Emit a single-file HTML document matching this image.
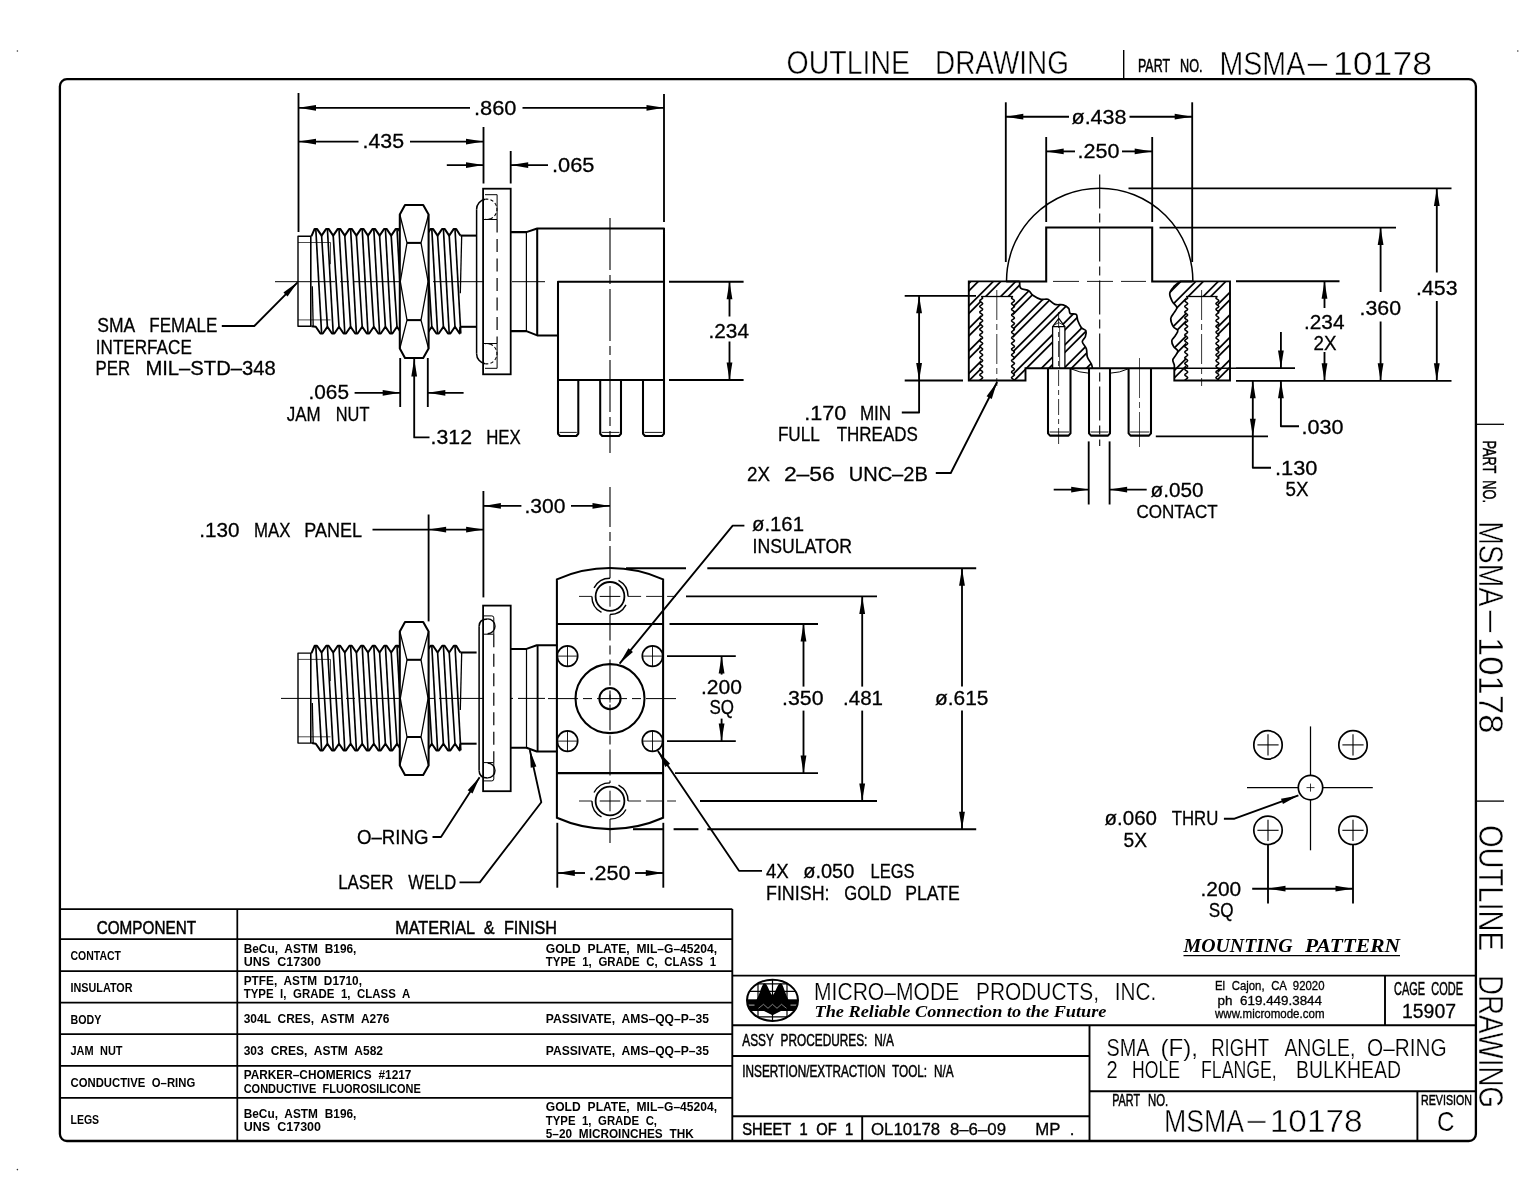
<!DOCTYPE html>
<html><head><meta charset="utf-8"><title>MSMA-10178 Outline Drawing</title>
<style>
html,body{margin:0;padding:0;background:#fff}
svg{display:block;will-change:transform}

text{stroke:none;fill:#000;font-family:"Liberation Sans",sans-serif;white-space:pre}
text.c,text.b,text.c2{word-spacing:.3em}
text.c{stroke:#000;stroke-width:.28px}
text.big{stroke:#fff;stroke-width:.5px;paint-order:fill stroke}
text.med{stroke:#fff;stroke-width:.2px;paint-order:fill stroke}
text.c2{stroke:#000;stroke-width:.3px}
text.b{font-weight:bold}
text.cn{stroke:#000;stroke-width:.5px}
text.si{font-family:"Liberation Serif",serif;font-style:italic;font-weight:bold}
</style></head><body>
<svg width="1536" height="1187" viewBox="0 0 1536 1187" fill="none" stroke="#000">
<rect x="0" y="0" width="1536" height="1187" fill="#fff" stroke="none"/>
<!-- frame -->
<rect x="59.9" y="79.2" width="1416" height="1061.8" rx="7" ry="7" stroke-width="2.3"/>
<circle cx="17.4" cy="51" r="0.8" fill="#333" stroke="none"/>
<circle cx="17.4" cy="1169.6" r="0.8" fill="#333" stroke="none"/>
<circle cx="1517.8" cy="51" r="0.8" fill="#333" stroke="none"/>
<!-- top title -->
<text class="c big" x="786.5" y="73.6" font-size="33.72" textLength="123.5" lengthAdjust="spacingAndGlyphs" >OUTLINE</text>
<text class="c big" x="935" y="73.6" font-size="33.72" textLength="134" lengthAdjust="spacingAndGlyphs" >DRAWING</text>
<line x1="1123.7" y1="50" x2="1123.7" y2="79" stroke-width="1.4"/>
<text class="c cn" x="1138" y="71.9" font-size="18.17" textLength="32" lengthAdjust="spacingAndGlyphs" >PART</text>
<text class="c cn" x="1180" y="71.9" font-size="18.17" textLength="22.5" lengthAdjust="spacingAndGlyphs" >NO.</text>
<text class="c big" x="1219.5" y="74.7" font-size="33.43" textLength="85.7" lengthAdjust="spacingAndGlyphs" >MSMA</text>
<text class="c big" x="1307.5" y="72.75" font-size="33.43" textLength="19.8" lengthAdjust="spacingAndGlyphs" >–</text>
<text class="c big" x="1333" y="74.7" font-size="33.43" textLength="99" lengthAdjust="spacingAndGlyphs" >10178</text>
<!-- right tab -->
<line x1="1476" y1="424.3" x2="1504" y2="424.3" stroke-width="1.3"/>
<line x1="1476" y1="801.1" x2="1504" y2="801.1" stroke-width="1.3"/>
<text class="c cn" transform="translate(1482.8 440.4) rotate(90)" x="0" y="0" font-size="18.9" textLength="62.6" lengthAdjust="spacingAndGlyphs">PART NO.</text>
<text class="c big" transform="translate(1478.9 521.2) rotate(90)" x="0" y="0" font-size="34.3" textLength="85.1" lengthAdjust="spacingAndGlyphs">MSMA</text>
<text class="c big" transform="translate(1480.91 610.6) rotate(90)" x="0" y="0" font-size="34.3" textLength="21.9" lengthAdjust="spacingAndGlyphs">–</text>
<text class="c big" transform="translate(1478.9 637) rotate(90)" x="0" y="0" font-size="34.3" textLength="96.5" lengthAdjust="spacingAndGlyphs">10178</text>
<text class="c big" transform="translate(1478.9 825) rotate(90)" x="0" y="0" font-size="34.3" textLength="126" lengthAdjust="spacingAndGlyphs">OUTLINE</text>
<text class="c big" transform="translate(1478.9 975) rotate(90)" x="0" y="0" font-size="34.3" textLength="133" lengthAdjust="spacingAndGlyphs">DRAWING</text>
<!-- title block -->
<line x1="732.3" y1="975.6" x2="1476" y2="975.6" stroke-width="1.9"/>
<line x1="732.3" y1="1025.3" x2="1476" y2="1025.3" stroke-width="1.9"/>
<line x1="732.3" y1="909" x2="732.3" y2="1141" stroke-width="1.9"/>
<line x1="732.3" y1="1056" x2="1089.5" y2="1056" stroke-width="1.9"/>
<line x1="732.3" y1="1116.2" x2="1089.5" y2="1116.2" stroke-width="1.9"/>
<line x1="1089.5" y1="1025.3" x2="1089.5" y2="1141" stroke-width="1.9"/>
<line x1="862.2" y1="1116.2" x2="862.2" y2="1141" stroke-width="1.9"/>
<line x1="1089.5" y1="1091.3" x2="1476" y2="1091.3" stroke-width="1.9"/>
<line x1="1385" y1="975.6" x2="1385" y2="1025.3" stroke-width="1.9"/>
<line x1="1417.4" y1="1091.3" x2="1417.4" y2="1141" stroke-width="1.9"/>
<text class="c med" x="814" y="999.6" font-size="23.55" textLength="145.2" lengthAdjust="spacingAndGlyphs" >MICRO–MODE</text>
<text class="c med" x="976" y="999.6" font-size="23.55" textLength="123" lengthAdjust="spacingAndGlyphs" >PRODUCTS,</text>
<text class="c med" x="1114.8" y="999.6" font-size="23.55" textLength="41.5" lengthAdjust="spacingAndGlyphs" >INC.</text>
<text class="si" x="814.5" y="1017" font-size="17.71" textLength="292" lengthAdjust="spacingAndGlyphs" >The Reliable Connection to the Future</text>
<text class="c2" x="1215" y="990.4" font-size="11.92" textLength="109.5" lengthAdjust="spacingAndGlyphs" >El Cajon, CA 92020</text>
<text class="c2" x="1217.5" y="1004.6" font-size="11.92" textLength="104.5" lengthAdjust="spacingAndGlyphs" >ph 619.449.3844</text>
<text class="c2" x="1215" y="1018.3" font-size="11.92" textLength="109.5" lengthAdjust="spacingAndGlyphs" >www.micromode.com</text>
<text class="c cn" x="1394" y="995.2" font-size="17.44" textLength="69" lengthAdjust="spacingAndGlyphs" >CAGE CODE</text>
<text class="c" x="1402" y="1017.8" font-size="19.33" textLength="54" lengthAdjust="spacingAndGlyphs" >15907</text>
<text class="c cn" x="742.3" y="1045.8" font-size="15.99" textLength="151.7" lengthAdjust="spacingAndGlyphs" >ASSY PROCEDURES: N/A</text>
<text class="c cn" x="742.3" y="1076.8" font-size="16.28" textLength="211.3" lengthAdjust="spacingAndGlyphs" >INSERTION/EXTRACTION TOOL: N/A</text>
<text class="c cn" x="742.3" y="1134.7" font-size="15.99" textLength="111" lengthAdjust="spacingAndGlyphs" >SHEET 1 OF 1</text>
<text class="c" x="871" y="1134.7" font-size="15.99" textLength="203.5" lengthAdjust="spacingAndGlyphs" >OL10178 8–6–09   MP .</text>
<text class="c med" x="1106.6" y="1055.6" font-size="24.13" textLength="43" lengthAdjust="spacingAndGlyphs" >SMA</text>
<text class="c med" x="1160.4" y="1055.6" font-size="24.13" textLength="37.6" lengthAdjust="spacingAndGlyphs" >(F),</text>
<text class="c med" x="1211.2" y="1055.6" font-size="24.13" textLength="57.8" lengthAdjust="spacingAndGlyphs" >RIGHT</text>
<text class="c med" x="1284.4" y="1055.6" font-size="24.13" textLength="71" lengthAdjust="spacingAndGlyphs" >ANGLE,</text>
<text class="c med" x="1367" y="1055.6" font-size="24.13" textLength="79.6" lengthAdjust="spacingAndGlyphs" >O–RING</text>
<text class="c med" x="1106.6" y="1078.4" font-size="24.13" textLength="11.2" lengthAdjust="spacingAndGlyphs" >2</text>
<text class="c med" x="1132" y="1078.4" font-size="24.13" textLength="48" lengthAdjust="spacingAndGlyphs" >HOLE</text>
<text class="c med" x="1201" y="1078.4" font-size="24.13" textLength="75.8" lengthAdjust="spacingAndGlyphs" >FLANGE,</text>
<text class="c med" x="1296" y="1078.4" font-size="24.13" textLength="105" lengthAdjust="spacingAndGlyphs" >BULKHEAD</text>
<text class="c cn" x="1112.2" y="1106" font-size="15.7" textLength="27.8" lengthAdjust="spacingAndGlyphs" >PART</text>
<text class="c cn" x="1148" y="1106" font-size="15.7" textLength="20.2" lengthAdjust="spacingAndGlyphs" >NO.</text>
<text class="c big" x="1164" y="1131.8" font-size="31.69" textLength="80.2" lengthAdjust="spacingAndGlyphs" >MSMA</text>
<text class="c big" x="1247.2" y="1129.95" font-size="31.69" textLength="18.6" lengthAdjust="spacingAndGlyphs" >–</text>
<text class="c big" x="1269.8" y="1131.8" font-size="31.69" textLength="92.8" lengthAdjust="spacingAndGlyphs" >10178</text>
<text class="c cn" x="1421" y="1105.3" font-size="15.12" textLength="51" lengthAdjust="spacingAndGlyphs" >REVISION</text>
<text class="c med" x="1437" y="1130.8" font-size="27.03" textLength="17.5" lengthAdjust="spacingAndGlyphs" >C</text>
<!-- logo -->
<clipPath id="lg"><ellipse cx="772.5" cy="1000.3" rx="25.5" ry="20.6"/></clipPath>
<g clip-path="url(#lg)">
<line x1="758" y1="979.7" x2="758" y2="1020.9" stroke-width="1.2"/>
<line x1="772.5" y1="979.7" x2="772.5" y2="1020.9" stroke-width="1.2"/>
<line x1="787" y1="979.7" x2="787" y2="1020.9" stroke-width="1.2"/>
<line x1="747" y1="983.8" x2="798" y2="983.8" stroke-width="1.2"/>
<line x1="747" y1="991.3" x2="798" y2="991.3" stroke-width="1.2"/>
<line x1="747" y1="1016.8" x2="798" y2="1016.8" stroke-width="1.2"/>
<line x1="747" y1="1010.3" x2="798" y2="1010.3" stroke-width="1.2"/>
<path d="M755.5 1001.3 C759.5 996.3 761.5 983.3 764.5 983.3 C767.5 983.3 769.5 993.3 772.5 995.3 C775.5 993.3 777.5 983.3 780.5 983.3 C783.5 983.3 785.5 996.3 789.5 1001.3 L798.5 1001.3 L746.5 1001.3 Z" fill="#000" stroke="none"/>
<rect x="747" y="999.3" width="51" height="11.5" fill="#000" stroke="none"/>
<polygon points="762.5,1010.3 782.5,1010.3 772.5,1015.3" fill="#000" stroke="none"/>
<polyline points="758.5,1008.3 763.5,1004.3 768,1008.3 772.5,1004.3 777,1008.3 781.5,1004.3 786.5,1008.3" stroke="#fff" style="stroke:#fff" stroke-width="0.5"/>
<line x1="747" y1="1005.1" x2="754.5" y2="1005.1" style="stroke:#fff" stroke-width="0.7"/>
<line x1="790.5" y1="1005.1" x2="798" y2="1005.1" style="stroke:#fff" stroke-width="0.7"/>
</g>
<ellipse cx="772.5" cy="1000.3" rx="25.5" ry="20.6" stroke-width="2"/>
<!-- materials table -->
<line x1="60" y1="909" x2="732.3" y2="909" stroke-width="1.75"/>
<line x1="60" y1="939.2" x2="732.3" y2="939.2" stroke-width="1.75"/>
<line x1="60" y1="971.1" x2="732.3" y2="971.1" stroke-width="1.75"/>
<line x1="60" y1="1002.5" x2="732.3" y2="1002.5" stroke-width="1.75"/>
<line x1="60" y1="1034" x2="732.3" y2="1034" stroke-width="1.75"/>
<line x1="60" y1="1065.9" x2="732.3" y2="1065.9" stroke-width="1.75"/>
<line x1="60" y1="1097.8" x2="732.3" y2="1097.8" stroke-width="1.75"/>
<line x1="237.3" y1="909" x2="237.3" y2="1141" stroke-width="1.75"/>
<text class="c cn" x="96.7" y="933.8" font-size="18.6" textLength="99.3" lengthAdjust="spacingAndGlyphs" >COMPONENT</text>
<text class="c cn" x="395.3" y="933.6" font-size="18.9" textLength="161.7" lengthAdjust="spacingAndGlyphs" >MATERIAL &amp; FINISH</text>
<text class="b" x="70.5" y="959.9" font-size="12.94" textLength="50.5" lengthAdjust="spacingAndGlyphs" >CONTACT</text>
<text class="b" x="70.5" y="991.6" font-size="12.94" textLength="62" lengthAdjust="spacingAndGlyphs" >INSULATOR</text>
<text class="b" x="70.5" y="1023.5" font-size="12.94" textLength="30.8" lengthAdjust="spacingAndGlyphs" >BODY</text>
<text class="b" x="70.5" y="1055.4" font-size="12.94" textLength="52" lengthAdjust="spacingAndGlyphs" >JAM NUT</text>
<text class="b" x="70.5" y="1086.8" font-size="12.94" textLength="124.7" lengthAdjust="spacingAndGlyphs" >CONDUCTIVE O–RING</text>
<text class="b" x="70.5" y="1124" font-size="12.94" textLength="28.6" lengthAdjust="spacingAndGlyphs" >LEGS</text>
<text class="b" x="243.7" y="952.9" font-size="12.65" textLength="112.7" lengthAdjust="spacingAndGlyphs" >BeCu, ASTM B196,</text>
<text class="b" x="243.7" y="966" font-size="12.65" textLength="77.3" lengthAdjust="spacingAndGlyphs" >UNS C17300</text>
<text class="b" x="243.7" y="984.6" font-size="12.65" textLength="118.3" lengthAdjust="spacingAndGlyphs" >PTFE, ASTM D1710,</text>
<text class="b" x="243.7" y="997.8" font-size="12.65" textLength="166.5" lengthAdjust="spacingAndGlyphs" >TYPE I, GRADE 1, CLASS A</text>
<text class="b" x="243.7" y="1023.3" font-size="12.65" textLength="145.8" lengthAdjust="spacingAndGlyphs" >304L CRES, ASTM A276</text>
<text class="b" x="243.7" y="1054.8" font-size="12.65" textLength="139.3" lengthAdjust="spacingAndGlyphs" >303 CRES, ASTM A582</text>
<text class="b" x="243.7" y="1079.4" font-size="12.65" textLength="167.7" lengthAdjust="spacingAndGlyphs" >PARKER–CHOMERICS #1217</text>
<text class="b" x="243.7" y="1093" font-size="12.65" textLength="177.1" lengthAdjust="spacingAndGlyphs" >CONDUCTIVE FLUOROSILICONE</text>
<text class="b" x="243.7" y="1117.9" font-size="12.65" textLength="112.7" lengthAdjust="spacingAndGlyphs" >BeCu, ASTM B196,</text>
<text class="b" x="243.7" y="1130.7" font-size="12.65" textLength="77.3" lengthAdjust="spacingAndGlyphs" >UNS C17300</text>
<text class="b" x="545.8" y="952.6" font-size="12.65" textLength="171.2" lengthAdjust="spacingAndGlyphs" >GOLD PLATE, MIL–G–45204,</text>
<text class="b" x="545.8" y="966.3" font-size="12.65" textLength="170.2" lengthAdjust="spacingAndGlyphs" >TYPE 1, GRADE C, CLASS 1</text>
<text class="b" x="545.8" y="1023.2" font-size="12.65" textLength="163.2" lengthAdjust="spacingAndGlyphs" >PASSIVATE, AMS–QQ–P–35</text>
<text class="b" x="545.8" y="1054.6" font-size="12.65" textLength="163.2" lengthAdjust="spacingAndGlyphs" >PASSIVATE, AMS–QQ–P–35</text>
<text class="b" x="545.8" y="1111" font-size="12.65" textLength="171.2" lengthAdjust="spacingAndGlyphs" >GOLD PLATE, MIL–G–45204,</text>
<text class="b" x="545.8" y="1124.6" font-size="12.65" textLength="111.2" lengthAdjust="spacingAndGlyphs" >TYPE 1, GRADE C,</text>
<text class="b" x="545.8" y="1138.2" font-size="12.65" textLength="147.9" lengthAdjust="spacingAndGlyphs" >5–20 MICROINCHES THK</text>
<!-- SIDE VIEW -->
<line x1="275" y1="281.7" x2="545" y2="281.7" stroke-width="1" stroke-dasharray="60 5 9 5"/>
<!-- connector cy=281.2 -->
<polyline points="311.5,236.2 298,236.2 298,326.2 311.5,326.2" fill="none" stroke-width="1.4" stroke-linejoin="round"/>
<polyline points="298,242.5 330.5,242.5 330.5,264.2" fill="none" stroke-width="0.7" stroke-linejoin="round"/>
<polyline points="298,319.9 330.5,319.9" fill="none" stroke-width="0.7" stroke-linejoin="round"/>
<line x1="310.8" y1="236.2" x2="310.8" y2="326.2" stroke-width="1.6"/>
<polyline points="311.5,236.2 314.6,228.9 317,228.9 321.6,235.6 326.2,228.9 328.6,228.9 333.2,235.6 337.8,228.9 340.2,228.9 344.8,235.6 349.4,228.9 351.8,228.9 356.4,235.6 361,228.9 363.4,228.9 368,235.6 372.6,228.9 375,228.9 379.6,235.6 384.2,228.9 386.6,228.9 391.2,235.6 395.8,228.9 398.2,228.9 402.8,235.6 407.4,228.9 409.8,228.9 414.4,235.6 419,228.9 421.4,228.9 426,235.6 430.6,228.9 433,228.9 437.6,235.6 442.2,228.9 444.6,228.9 449.2,235.6 453.8,228.9 456.2,228.9 460.3,235.6" fill="none" stroke-width="2" stroke-linejoin="round"/>
<polyline points="311.5,326.2 315.8,326.8 320.4,333.5 322.8,333.5 327.4,326.8 332,333.5 334.4,333.5 339,326.8 343.6,333.5 346,333.5 350.6,326.8 355.2,333.5 357.6,333.5 362.2,326.8 366.8,333.5 369.2,333.5 373.8,326.8 378.4,333.5 380.8,333.5 385.4,326.8 390,333.5 392.4,333.5 397,326.8 401.6,333.5 404,333.5 408.6,326.8 413.2,333.5 415.6,333.5 420.2,326.8 424.8,333.5 427.2,333.5 431.8,326.8 436.4,333.5 438.8,333.5 443.4,326.8 448,333.5 450.4,333.5 455,326.8 459.6,333.5 460.3,326.8" fill="none" stroke-width="2" stroke-linejoin="round"/>
<line x1="315.8" y1="228.9" x2="321.6" y2="333.5" stroke-width="1.65"/>
<line x1="321.6" y1="235.6" x2="327.4" y2="326.8" stroke-width="1.65"/>
<line x1="327.4" y1="228.9" x2="333.2" y2="333.5" stroke-width="1.65"/>
<line x1="333.2" y1="235.6" x2="339" y2="326.8" stroke-width="1.65"/>
<line x1="339" y1="228.9" x2="344.8" y2="333.5" stroke-width="1.65"/>
<line x1="344.8" y1="235.6" x2="350.6" y2="326.8" stroke-width="1.65"/>
<line x1="350.6" y1="228.9" x2="356.4" y2="333.5" stroke-width="1.65"/>
<line x1="356.4" y1="235.6" x2="362.2" y2="326.8" stroke-width="1.65"/>
<line x1="362.2" y1="228.9" x2="368" y2="333.5" stroke-width="1.65"/>
<line x1="368" y1="235.6" x2="373.8" y2="326.8" stroke-width="1.65"/>
<line x1="373.8" y1="228.9" x2="379.6" y2="333.5" stroke-width="1.65"/>
<line x1="379.6" y1="235.6" x2="385.4" y2="326.8" stroke-width="1.65"/>
<line x1="385.4" y1="228.9" x2="391.2" y2="333.5" stroke-width="1.65"/>
<line x1="391.2" y1="235.6" x2="397" y2="326.8" stroke-width="1.65"/>
<line x1="397" y1="228.9" x2="402.8" y2="333.5" stroke-width="1.65"/>
<line x1="402.8" y1="235.6" x2="408.6" y2="326.8" stroke-width="1.65"/>
<line x1="408.6" y1="228.9" x2="414.4" y2="333.5" stroke-width="1.65"/>
<line x1="414.4" y1="235.6" x2="420.2" y2="326.8" stroke-width="1.65"/>
<line x1="420.2" y1="228.9" x2="426" y2="333.5" stroke-width="1.65"/>
<line x1="426" y1="235.6" x2="431.8" y2="326.8" stroke-width="1.65"/>
<line x1="431.8" y1="228.9" x2="437.6" y2="333.5" stroke-width="1.65"/>
<line x1="437.6" y1="235.6" x2="443.4" y2="326.8" stroke-width="1.65"/>
<line x1="443.4" y1="228.9" x2="449.2" y2="333.5" stroke-width="1.65"/>
<line x1="449.2" y1="235.6" x2="455" y2="326.8" stroke-width="1.65"/>
<line x1="455" y1="228.9" x2="460.8" y2="333.5" stroke-width="1.65"/>
<line x1="461.7" y1="235.6" x2="460.3" y2="293.2" stroke-width="1.3"/>
<line x1="312.3" y1="286.2" x2="313.2" y2="326.8" stroke-width="1.3"/>
<line x1="460.3" y1="235.6" x2="476.6" y2="235.6" stroke-width="2.05"/>
<line x1="460.3" y1="326.8" x2="476.6" y2="326.8" stroke-width="2.05"/>
<polygon points="405,205 423.2,205 428.6,214.5 428.6,348.5 423.2,358 405,358 399.8,348.5 399.8,214.5" fill="#fff" stroke-width="2.05" stroke-linejoin="round"/>
<line x1="407" y1="242.9" x2="421" y2="242.9" stroke-width="2.05"/>
<line x1="407" y1="320.1" x2="421" y2="320.1" stroke-width="2.05"/>
<polyline points="399.8,214.5 407,242.9 400.3,281.5 407,320.1 399.8,348.5" fill="none" stroke-width="1.3" stroke-linejoin="round"/>
<polyline points="428.6,214.5 421,242.9 428.1,281.5 421,320.1 428.6,348.5" fill="none" stroke-width="1.3" stroke-linejoin="round"/>
<rect x="483.1" y="188.7" width="27.6" height="185.6" fill="#fff" stroke-width="1.8"/>
<path d="M476.6 209.3 A10.2 10.2 0 0 1 485.16 199.23" fill="none" stroke-width="1.5"/>
<path d="M485.16 199.23 A10.2 10.2 0 0 1 490.29 218.88" fill="none" stroke-width="1.1" stroke-dasharray="3.2 2.2"/>
<path d="M490.29 218.88 A10.2 10.2 0 0 1 485.03 219.35" fill="none" stroke-width="1.1"/>
<polyline points="485,194.7 497.1,194.7 497.1,219.5 483.1,219.5" fill="none" stroke-width="1" stroke-linejoin="round"/>
<path d="M476.6 353.7 A10.2 10.2 0 0 0 485.16 363.77" fill="none" stroke-width="1.5"/>
<path d="M485.16 363.77 A10.2 10.2 0 0 0 490.29 344.12" fill="none" stroke-width="1.1" stroke-dasharray="3.2 2.2"/>
<path d="M490.29 344.12 A10.2 10.2 0 0 0 485.03 343.65" fill="none" stroke-width="1.1"/>
<polyline points="485,368.3 497.1,368.3 497.1,343.5 483.1,343.5" fill="none" stroke-width="1" stroke-linejoin="round"/>
<line x1="476.6" y1="209.3" x2="476.6" y2="353.7" stroke-width="1.5"/>
<line x1="497.1" y1="219.5" x2="497.1" y2="343.5" stroke-width="1.2" stroke-dasharray="13 6.5"/>
<polyline points="510.7,232.1 526.4,232.1 537.2,228.5 664,228.5 664,380" fill="none" stroke-width="2.05" stroke-linejoin="round"/>
<polyline points="510.7,331.1 526.4,331.1 537.2,335.4 558,335.4" fill="none" stroke-width="2.05" stroke-linejoin="round"/>
<line x1="526.4" y1="232.1" x2="526.4" y2="331.1" stroke-width="1.2"/>
<line x1="537.2" y1="228.5" x2="537.2" y2="335.4" stroke-width="2.05"/>
<polyline points="664,281.7 558,281.7 558,380 664,380" fill="none" stroke-width="2.05" stroke-linejoin="round"/>
<polyline points="558,380 558,433.8 560,436 576.3,436 578.3,433.8 578.3,380" fill="none" stroke-width="2.05" stroke-linejoin="round"/>
<line x1="559.5" y1="432.4" x2="576.8" y2="432.4" stroke-width="0.9"/>
<polyline points="600.2,380 600.2,433.8 602.2,436 619,436 621,433.8 621,380" fill="none" stroke-width="2.05" stroke-linejoin="round"/>
<line x1="601.7" y1="432.4" x2="619.5" y2="432.4" stroke-width="0.9"/>
<polyline points="643,380 643,433.8 645,436 662,436 664,433.8 664,380" fill="none" stroke-width="2.05" stroke-linejoin="round"/>
<line x1="644.5" y1="432.4" x2="662.5" y2="432.4" stroke-width="0.9"/>
<line x1="610" y1="218" x2="610" y2="453" stroke-width="1.1" stroke-dasharray="52 5 9 5"/>
<line x1="298.5" y1="93" x2="298.5" y2="232" stroke-width="1.85"/>
<line x1="664" y1="94" x2="664" y2="222" stroke-width="1.85"/>
<line x1="298.5" y1="107.8" x2="470" y2="107.8" stroke-width="1.85"/>
<line x1="522.5" y1="107.8" x2="664" y2="107.8" stroke-width="1.85"/>
<polygon points="298.5,107.8 316,104.9 316,110.7" fill="#000" stroke="none"/>
<polygon points="664,107.8 646.5,110.7 646.5,104.9" fill="#000" stroke="none"/>
<text class="c" x="474" y="114.5" font-size="19.48" textLength="42.5" lengthAdjust="spacingAndGlyphs" >.860</text>
<line x1="483.5" y1="127" x2="483.5" y2="183.5" stroke-width="1.85"/>
<line x1="298.5" y1="141.6" x2="358.5" y2="141.6" stroke-width="1.85"/>
<line x1="410" y1="141.6" x2="483.5" y2="141.6" stroke-width="1.85"/>
<polygon points="298.5,141.6 316,138.7 316,144.5" fill="#000" stroke="none"/>
<polygon points="483.5,141.6 466,144.5 466,138.7" fill="#000" stroke="none"/>
<text class="c" x="362.5" y="148.3" font-size="19.48" textLength="41.5" lengthAdjust="spacingAndGlyphs" >.435</text>
<line x1="510.7" y1="151" x2="510.7" y2="183.5" stroke-width="1.85"/>
<line x1="446.8" y1="165.1" x2="483.5" y2="165.1" stroke-width="1.85"/>
<polygon points="483.5,165.1 466,168 466,162.2" fill="#000" stroke="none"/>
<line x1="510.7" y1="165.1" x2="548" y2="165.1" stroke-width="1.85"/>
<polygon points="510.7,165.1 528.2,162.2 528.2,168" fill="#000" stroke="none"/>
<text class="c" x="552" y="171.8" font-size="19.48" textLength="42.5" lengthAdjust="spacingAndGlyphs" >.065</text>
<line x1="669" y1="281.7" x2="743.6" y2="281.7" stroke-width="1.85"/>
<line x1="669" y1="380" x2="743.6" y2="380" stroke-width="1.85"/>
<line x1="729.5" y1="281.7" x2="729.5" y2="316.5" stroke-width="1.85"/>
<line x1="729.5" y1="341.5" x2="729.5" y2="380" stroke-width="1.85"/>
<polygon points="729.5,281.7 732.4,299.2 726.6,299.2" fill="#000" stroke="none"/>
<polygon points="729.5,380 726.6,362.5 732.4,362.5" fill="#000" stroke="none"/>
<text class="c" x="708.5" y="337.7" font-size="19.48" textLength="40.5" lengthAdjust="spacingAndGlyphs" >.234</text>
<text class="c" x="97.2" y="332.4" font-size="19.77" textLength="38" lengthAdjust="spacingAndGlyphs" >SMA</text>
<text class="c" x="149.3" y="332.4" font-size="19.77" textLength="68.1" lengthAdjust="spacingAndGlyphs" >FEMALE</text>
<text class="c" x="95.8" y="353.8" font-size="19.77" textLength="96" lengthAdjust="spacingAndGlyphs" >INTERFACE</text>
<text class="c" x="95.6" y="375.1" font-size="19.77" textLength="34.6" lengthAdjust="spacingAndGlyphs" >PER</text>
<text class="c" x="145.4" y="375.1" font-size="19.77" textLength="130.4" lengthAdjust="spacingAndGlyphs" >MIL–STD–348</text>
<polyline points="221.8,326 254.3,326 297.6,282.3" fill="none" stroke-width="1.85" stroke-linejoin="round"/>
<polygon points="297.8,282.1 287.54,296.57 283.42,292.49" fill="#000" stroke="none"/>
<line x1="400.2" y1="358" x2="400.2" y2="407" stroke-width="1.85"/>
<line x1="427.8" y1="358" x2="427.8" y2="407" stroke-width="1.85"/>
<line x1="354.6" y1="392.8" x2="400.2" y2="392.8" stroke-width="1.85"/>
<polygon points="400.2,392.8 382.7,395.7 382.7,389.9" fill="#000" stroke="none"/>
<line x1="427.8" y1="392.8" x2="463.6" y2="392.8" stroke-width="1.85"/>
<polygon points="427.8,392.8 445.3,389.9 445.3,395.7" fill="#000" stroke="none"/>
<text class="c" x="308.5" y="399.1" font-size="19.48" textLength="40.5" lengthAdjust="spacingAndGlyphs" >.065</text>
<text class="c" x="286.7" y="421" font-size="19.48" textLength="33.9" lengthAdjust="spacingAndGlyphs" >JAM</text>
<text class="c" x="335.8" y="421" font-size="19.48" textLength="33.6" lengthAdjust="spacingAndGlyphs" >NUT</text>
<polyline points="414.2,359 414.2,437.4 429.5,437.4" fill="none" stroke-width="1.85" stroke-linejoin="round"/>
<polygon points="414.2,359 417.1,376.5 411.3,376.5" fill="#000" stroke="none"/>
<text class="c" x="430.6" y="444.1" font-size="19.48" textLength="41.4" lengthAdjust="spacingAndGlyphs" >.312</text>
<text class="c" x="486.2" y="444.1" font-size="19.48" textLength="34.6" lengthAdjust="spacingAndGlyphs" >HEX</text>
<!-- FRONT VIEW -->
<line x1="281" y1="698.4" x2="545" y2="698.4" stroke-width="1" stroke-dasharray="60 5 9 5"/>
<line x1="548" y1="698.6" x2="676" y2="698.6" stroke-width="1" stroke-dasharray="30 5 9 5"/>
<!-- connector cy=698.1 -->
<polyline points="311.5,653.1 298,653.1 298,743.1 311.5,743.1" fill="none" stroke-width="1.4" stroke-linejoin="round"/>
<polyline points="298,659.4 330.5,659.4 330.5,681.1" fill="none" stroke-width="0.7" stroke-linejoin="round"/>
<polyline points="298,736.8 330.5,736.8" fill="none" stroke-width="0.7" stroke-linejoin="round"/>
<line x1="310.8" y1="653.1" x2="310.8" y2="743.1" stroke-width="1.6"/>
<polyline points="311.5,653.1 314.6,645.8 317,645.8 321.6,652.5 326.2,645.8 328.6,645.8 333.2,652.5 337.8,645.8 340.2,645.8 344.8,652.5 349.4,645.8 351.8,645.8 356.4,652.5 361,645.8 363.4,645.8 368,652.5 372.6,645.8 375,645.8 379.6,652.5 384.2,645.8 386.6,645.8 391.2,652.5 395.8,645.8 398.2,645.8 402.8,652.5 407.4,645.8 409.8,645.8 414.4,652.5 419,645.8 421.4,645.8 426,652.5 430.6,645.8 433,645.8 437.6,652.5 442.2,645.8 444.6,645.8 449.2,652.5 453.8,645.8 456.2,645.8 460.3,652.5" fill="none" stroke-width="2" stroke-linejoin="round"/>
<polyline points="311.5,743.1 315.8,743.7 320.4,750.4 322.8,750.4 327.4,743.7 332,750.4 334.4,750.4 339,743.7 343.6,750.4 346,750.4 350.6,743.7 355.2,750.4 357.6,750.4 362.2,743.7 366.8,750.4 369.2,750.4 373.8,743.7 378.4,750.4 380.8,750.4 385.4,743.7 390,750.4 392.4,750.4 397,743.7 401.6,750.4 404,750.4 408.6,743.7 413.2,750.4 415.6,750.4 420.2,743.7 424.8,750.4 427.2,750.4 431.8,743.7 436.4,750.4 438.8,750.4 443.4,743.7 448,750.4 450.4,750.4 455,743.7 459.6,750.4 460.3,743.7" fill="none" stroke-width="2" stroke-linejoin="round"/>
<line x1="315.8" y1="645.8" x2="321.6" y2="750.4" stroke-width="1.65"/>
<line x1="321.6" y1="652.5" x2="327.4" y2="743.7" stroke-width="1.65"/>
<line x1="327.4" y1="645.8" x2="333.2" y2="750.4" stroke-width="1.65"/>
<line x1="333.2" y1="652.5" x2="339" y2="743.7" stroke-width="1.65"/>
<line x1="339" y1="645.8" x2="344.8" y2="750.4" stroke-width="1.65"/>
<line x1="344.8" y1="652.5" x2="350.6" y2="743.7" stroke-width="1.65"/>
<line x1="350.6" y1="645.8" x2="356.4" y2="750.4" stroke-width="1.65"/>
<line x1="356.4" y1="652.5" x2="362.2" y2="743.7" stroke-width="1.65"/>
<line x1="362.2" y1="645.8" x2="368" y2="750.4" stroke-width="1.65"/>
<line x1="368" y1="652.5" x2="373.8" y2="743.7" stroke-width="1.65"/>
<line x1="373.8" y1="645.8" x2="379.6" y2="750.4" stroke-width="1.65"/>
<line x1="379.6" y1="652.5" x2="385.4" y2="743.7" stroke-width="1.65"/>
<line x1="385.4" y1="645.8" x2="391.2" y2="750.4" stroke-width="1.65"/>
<line x1="391.2" y1="652.5" x2="397" y2="743.7" stroke-width="1.65"/>
<line x1="397" y1="645.8" x2="402.8" y2="750.4" stroke-width="1.65"/>
<line x1="402.8" y1="652.5" x2="408.6" y2="743.7" stroke-width="1.65"/>
<line x1="408.6" y1="645.8" x2="414.4" y2="750.4" stroke-width="1.65"/>
<line x1="414.4" y1="652.5" x2="420.2" y2="743.7" stroke-width="1.65"/>
<line x1="420.2" y1="645.8" x2="426" y2="750.4" stroke-width="1.65"/>
<line x1="426" y1="652.5" x2="431.8" y2="743.7" stroke-width="1.65"/>
<line x1="431.8" y1="645.8" x2="437.6" y2="750.4" stroke-width="1.65"/>
<line x1="437.6" y1="652.5" x2="443.4" y2="743.7" stroke-width="1.65"/>
<line x1="443.4" y1="645.8" x2="449.2" y2="750.4" stroke-width="1.65"/>
<line x1="449.2" y1="652.5" x2="455" y2="743.7" stroke-width="1.65"/>
<line x1="455" y1="645.8" x2="460.8" y2="750.4" stroke-width="1.65"/>
<line x1="461.7" y1="652.5" x2="460.3" y2="710.1" stroke-width="1.3"/>
<line x1="312.3" y1="703.1" x2="313.2" y2="743.7" stroke-width="1.3"/>
<line x1="460.3" y1="652.5" x2="476.6" y2="652.5" stroke-width="2.05"/>
<line x1="460.3" y1="743.7" x2="476.6" y2="743.7" stroke-width="2.05"/>
<polygon points="405,621.9 423.2,621.9 428.6,631.4 428.6,765.4 423.2,774.9 405,774.9 399.8,765.4 399.8,631.4" fill="#fff" stroke-width="2.05" stroke-linejoin="round"/>
<line x1="407" y1="659.8" x2="421" y2="659.8" stroke-width="2.05"/>
<line x1="407" y1="737" x2="421" y2="737" stroke-width="2.05"/>
<polyline points="399.8,631.4 407,659.8 400.3,698.4 407,737 399.8,765.4" fill="none" stroke-width="1.3" stroke-linejoin="round"/>
<polyline points="428.6,631.4 421,659.8 428.1,698.4 421,737 428.6,765.4" fill="none" stroke-width="1.3" stroke-linejoin="round"/>
<rect x="483.1" y="605.6" width="27.6" height="185.6" fill="#fff" stroke-width="1.8"/>
<path d="M479.1 626.3 Q479.1 618.9 487.6 618.9" stroke-width="1.5"/>
<path d="M487.6 618.9 A7.4 7.4 0 0 1 487.6 633.7" fill="none" stroke-width="1.4"/>
<path d="M483.1 615.9 L491.8 615.9 Q493.8 615.9 493.8 617.9 L493.8 634.2 L483.1 634.2" stroke-width="1.0"/>
<path d="M479.1 770.5 Q479.1 777.9 487.6 777.9" stroke-width="1.5"/>
<path d="M487.6 763.1 A7.4 7.4 0 0 1 487.6 777.9" fill="none" stroke-width="1.4"/>
<path d="M483.1 780.9 L491.8 780.9 Q493.8 780.9 493.8 778.9 L493.8 762.6 L483.1 762.6" stroke-width="1.0"/>
<line x1="479.1" y1="626.3" x2="479.1" y2="770.5" stroke-width="1.5"/>
<line x1="493.8" y1="634.2" x2="493.8" y2="762.6" stroke-width="1.2" stroke-dasharray="13 6.5"/>
<polyline points="510.7,648.9 526.5,648.9 536.8,645.3 557.3,645.3" fill="none" stroke-width="2.05" stroke-linejoin="round"/>
<polyline points="510.7,747.7 526.5,747.7 536.8,751.5 557.3,751.5" fill="none" stroke-width="2.05" stroke-linejoin="round"/>
<line x1="526.5" y1="648.9" x2="526.5" y2="747.7" stroke-width="1.2"/>
<line x1="537.6" y1="645.3" x2="537.6" y2="751.5" stroke-width="1.9"/>
<path d="M556.9 579.39 A130.5 130.5 0 0 1 663.1 579.39 L663.1 817.81 A130.5 130.5 0 0 1 556.9 817.81 Z" stroke-width="2.05"/>
<line x1="556.9" y1="624" x2="663.1" y2="624" stroke-width="2.05"/>
<line x1="556.9" y1="773.1" x2="663.1" y2="773.1" stroke-width="2.05"/>
<line x1="610" y1="487" x2="610" y2="578.3" stroke-width="1.1" stroke-dasharray="40 5 9 5"/>
<line x1="610" y1="614.5" x2="610" y2="782.9" stroke-width="1.1" stroke-dasharray="26 5 9 5"/>
<line x1="610" y1="819.1" x2="610" y2="843" stroke-width="1.1"/>
<circle cx="610" cy="596.4" r="14.4" fill="none" stroke-width="1.8"/>
<path d="M610 578.3 A18.1 18.1 0 0 0 594.02 587.9" fill="none" stroke-width="1.4"/>
<path d="M591.9 596.4 A18.1 18.1 0 0 0 601.5 612.38" fill="none" stroke-width="1.4"/>
<path d="M610 614.5 A18.1 18.1 0 0 0 625.98 604.9" fill="none" stroke-width="1.4"/>
<path d="M628.1 596.4 A18.1 18.1 0 0 0 618.5 580.42" fill="none" stroke-width="1.4"/>
<line x1="599.7" y1="596.4" x2="620.3" y2="596.4" stroke-width="1"/>
<line x1="610" y1="586.1" x2="610" y2="606.7" stroke-width="1"/>
<circle cx="610" cy="801" r="14.4" fill="none" stroke-width="1.8"/>
<path d="M610 782.9 A18.1 18.1 0 0 0 594.02 792.5" fill="none" stroke-width="1.4"/>
<path d="M591.9 801 A18.1 18.1 0 0 0 601.5 816.98" fill="none" stroke-width="1.4"/>
<path d="M610 819.1 A18.1 18.1 0 0 0 625.98 809.5" fill="none" stroke-width="1.4"/>
<path d="M628.1 801 A18.1 18.1 0 0 0 618.5 785.02" fill="none" stroke-width="1.4"/>
<line x1="599.7" y1="801" x2="620.3" y2="801" stroke-width="1"/>
<line x1="610" y1="790.7" x2="610" y2="811.3" stroke-width="1"/>
<line x1="579" y1="596.4" x2="591.9" y2="596.4" stroke-width="0.9"/>
<line x1="628.1" y1="596.4" x2="676" y2="596.4" stroke-width="0.9" stroke-dasharray="13 5 16 5 100"/>
<line x1="579" y1="801" x2="591.9" y2="801" stroke-width="0.9"/>
<line x1="628.1" y1="801" x2="676" y2="801" stroke-width="0.9" stroke-dasharray="13 5 16 5 100"/>
<circle cx="610" cy="698.6" r="34.5" fill="none" stroke-width="2.05"/>
<circle cx="610" cy="698.6" r="10.6" fill="none" stroke-width="2.05"/>
<line x1="610" y1="694.6" x2="610" y2="702.6" stroke-width="0.9"/>
<circle cx="567.5" cy="656.1" r="10.2" fill="none" stroke-width="1.7"/>
<line x1="557.3" y1="656.1" x2="577.7" y2="656.1" stroke-width="0.9"/>
<line x1="567.5" y1="645.9" x2="567.5" y2="666.3" stroke-width="0.9"/>
<circle cx="567.5" cy="741.1" r="10.2" fill="none" stroke-width="1.7"/>
<line x1="557.3" y1="741.1" x2="577.7" y2="741.1" stroke-width="0.9"/>
<line x1="567.5" y1="730.9" x2="567.5" y2="751.3" stroke-width="0.9"/>
<circle cx="652.5" cy="656.1" r="10.2" fill="none" stroke-width="1.7"/>
<line x1="642.3" y1="656.1" x2="662.7" y2="656.1" stroke-width="0.9"/>
<line x1="652.5" y1="645.9" x2="652.5" y2="666.3" stroke-width="0.9"/>
<circle cx="652.5" cy="741.1" r="10.2" fill="none" stroke-width="1.7"/>
<line x1="642.3" y1="741.1" x2="662.7" y2="741.1" stroke-width="0.9"/>
<line x1="652.5" y1="730.9" x2="652.5" y2="751.3" stroke-width="0.9"/>
<text class="c" x="199.3" y="536.8" font-size="19.77" textLength="40.3" lengthAdjust="spacingAndGlyphs" >.130</text>
<text class="c" x="254" y="536.8" font-size="19.77" textLength="36.4" lengthAdjust="spacingAndGlyphs" >MAX</text>
<text class="c" x="304.2" y="536.8" font-size="19.77" textLength="57.8" lengthAdjust="spacingAndGlyphs" >PANEL</text>
<line x1="372.5" y1="529.6" x2="483.6" y2="529.6" stroke-width="1.85"/>
<polygon points="428.6,529.6 446.1,526.7 446.1,532.5" fill="#000" stroke="none"/>
<polygon points="483.6,529.6 466.1,532.5 466.1,526.7" fill="#000" stroke="none"/>
<line x1="428.6" y1="514.5" x2="428.6" y2="621.4" stroke-width="1.85"/>
<line x1="483.4" y1="491" x2="483.4" y2="597.4" stroke-width="1.85"/>
<line x1="483.4" y1="505.9" x2="521.4" y2="505.9" stroke-width="1.85"/>
<line x1="571" y1="505.9" x2="610" y2="505.9" stroke-width="1.85"/>
<polygon points="483.4,505.9 500.9,503 500.9,508.8" fill="#000" stroke="none"/>
<polygon points="610,505.9 592.5,508.8 592.5,503" fill="#000" stroke="none"/>
<text class="c" x="524.5" y="512.9" font-size="19.48" textLength="41" lengthAdjust="spacingAndGlyphs" >.300</text>
<polyline points="744.4,525.6 732.7,525.6 619.6,663.6" fill="none" stroke-width="1.85" stroke-linejoin="round"/>
<polygon points="619.6,663.6 628.45,648.23 632.94,651.9" fill="#000" stroke="none"/>
<text class="c" x="752" y="531.4" font-size="19.48" textLength="52" lengthAdjust="spacingAndGlyphs" >ø.161</text>
<text class="c" x="752.5" y="552.5" font-size="19.48" textLength="99.5" lengthAdjust="spacingAndGlyphs" >INSULATOR</text>
<line x1="626" y1="568.2" x2="686" y2="568.2" stroke-width="2.05"/>
<line x1="707.3" y1="568.2" x2="976.2" y2="568.2" stroke-width="2.05"/>
<line x1="686" y1="596.4" x2="877" y2="596.4" stroke-width="1.85"/>
<line x1="669.5" y1="624" x2="818" y2="624" stroke-width="1.85"/>
<line x1="667" y1="656.1" x2="735.8" y2="656.1" stroke-width="1.85"/>
<line x1="667" y1="741.1" x2="735.8" y2="741.1" stroke-width="1.85"/>
<line x1="675" y1="773.1" x2="818" y2="773.1" stroke-width="1.85"/>
<line x1="700" y1="801" x2="877" y2="801" stroke-width="1.85"/>
<line x1="633" y1="829.2" x2="664" y2="829.2" stroke-width="2.05"/>
<line x1="673.6" y1="829.2" x2="698.4" y2="829.2" stroke-width="2.05"/>
<line x1="707.3" y1="829.2" x2="976.2" y2="829.2" stroke-width="2.05"/>
<line x1="721.6" y1="656.1" x2="721.6" y2="674.6" stroke-width="1.85"/>
<polygon points="721.6,656.1 724.5,673.6 718.7,673.6" fill="#000" stroke="none"/>
<line x1="721.6" y1="741.1" x2="721.6" y2="718.6" stroke-width="1.85"/>
<polygon points="721.6,741.1 718.7,723.6 724.5,723.6" fill="#000" stroke="none"/>
<text class="c" x="701" y="693.5" font-size="19.48" textLength="41" lengthAdjust="spacingAndGlyphs" >.200</text>
<text class="c" x="709.5" y="714" font-size="19.48" textLength="24.5" lengthAdjust="spacingAndGlyphs" >SQ</text>
<line x1="803.5" y1="624" x2="803.5" y2="686.6" stroke-width="1.85"/>
<line x1="803.5" y1="710.6" x2="803.5" y2="773.1" stroke-width="1.85"/>
<polygon points="803.5,624 806.4,641.5 800.6,641.5" fill="#000" stroke="none"/>
<polygon points="803.5,773.1 800.6,755.6 806.4,755.6" fill="#000" stroke="none"/>
<text class="c" x="782" y="705.1" font-size="19.48" textLength="41.5" lengthAdjust="spacingAndGlyphs" >.350</text>
<line x1="862.2" y1="596.4" x2="862.2" y2="686.6" stroke-width="1.85"/>
<line x1="862.2" y1="710.6" x2="862.2" y2="801" stroke-width="1.85"/>
<polygon points="862.2,596.4 865.1,613.9 859.3,613.9" fill="#000" stroke="none"/>
<polygon points="862.2,801 859.3,783.5 865.1,783.5" fill="#000" stroke="none"/>
<text class="c" x="843" y="705.1" font-size="19.48" textLength="40" lengthAdjust="spacingAndGlyphs" >.481</text>
<line x1="962" y1="568.2" x2="962" y2="686.6" stroke-width="1.85"/>
<line x1="962" y1="710.6" x2="962" y2="829.2" stroke-width="1.85"/>
<polygon points="962,568.2 964.9,585.7 959.1,585.7" fill="#000" stroke="none"/>
<polygon points="962,829.2 959.1,811.7 964.9,811.7" fill="#000" stroke="none"/>
<text class="c" x="935" y="705.1" font-size="19.48" textLength="53.5" lengthAdjust="spacingAndGlyphs" >ø.615</text>
<polyline points="762,870.8 739,870.8 657.9,751" fill="none" stroke-width="1.85" stroke-linejoin="round"/>
<polygon points="657.9,751 670.11,763.87 665.31,767.12" fill="#000" stroke="none"/>
<text class="c" x="766" y="877.9" font-size="19.48" textLength="22.8" lengthAdjust="spacingAndGlyphs" >4X</text>
<text class="c" x="803.2" y="877.9" font-size="19.48" textLength="51.2" lengthAdjust="spacingAndGlyphs" >ø.050</text>
<text class="c" x="870.5" y="877.9" font-size="19.48" textLength="44" lengthAdjust="spacingAndGlyphs" >LEGS</text>
<text class="c" x="766" y="899.9" font-size="19.48" textLength="63.5" lengthAdjust="spacingAndGlyphs" >FINISH:</text>
<text class="c" x="844.3" y="899.9" font-size="19.48" textLength="47.1" lengthAdjust="spacingAndGlyphs" >GOLD</text>
<text class="c" x="905.2" y="899.9" font-size="19.48" textLength="54.6" lengthAdjust="spacingAndGlyphs" >PLATE</text>
<line x1="557.3" y1="822.8" x2="557.3" y2="887.7" stroke-width="1.85"/>
<line x1="663.3" y1="822.8" x2="663.3" y2="887.7" stroke-width="1.85"/>
<line x1="557.3" y1="873" x2="585" y2="873" stroke-width="1.85"/>
<line x1="635" y1="873" x2="663.3" y2="873" stroke-width="1.85"/>
<polygon points="557.3,873 574.8,870.1 574.8,875.9" fill="#000" stroke="none"/>
<polygon points="663.3,873 645.8,875.9 645.8,870.1" fill="#000" stroke="none"/>
<text class="c" x="588.5" y="879.9" font-size="19.48" textLength="42" lengthAdjust="spacingAndGlyphs" >.250</text>
<text class="c" x="357" y="843.6" font-size="19.48" textLength="71.5" lengthAdjust="spacingAndGlyphs" >O–RING</text>
<polyline points="432.5,837 441,837 479.6,777.2" fill="none" stroke-width="1.85" stroke-linejoin="round"/>
<polygon points="479.6,777.2 472.55,793.48 467.67,790.33" fill="#000" stroke="none"/>
<text class="c" x="338.2" y="889.2" font-size="19.48" textLength="55.2" lengthAdjust="spacingAndGlyphs" >LASER</text>
<text class="c" x="408.3" y="889.2" font-size="19.48" textLength="48" lengthAdjust="spacingAndGlyphs" >WELD</text>
<polyline points="459.5,882.4 479.8,882.4 541.3,802.3 529.8,750" fill="none" stroke-width="1.85" stroke-linejoin="round"/>
<polygon points="529.8,750 536.39,766.47 530.73,767.71" fill="#000" stroke="none"/>
<!-- SECTION VIEW -->
<clipPath id="hl"><path clip-rule="evenodd" d="M1019.64 281.4 C1019.81 282.53 1019.13 286.64 1020.65 288.19 C1022.17 289.75 1026.71 289.54 1028.74 290.72 C1030.76 291.9 1030.76 293.84 1032.78 295.27 C1034.8 296.7 1038.34 298.64 1040.87 299.31 C1043.39 299.99 1045.58 298.47 1047.94 299.31 C1050.3 300.16 1052.49 303.44 1055.02 304.37 C1057.54 305.29 1060.83 304.2 1063.1 304.87 C1065.38 305.55 1067.48 306.98 1068.66 308.41 C1069.84 309.84 1068.92 312.45 1070.18 313.47 C1071.44 314.48 1074.98 313.3 1076.24 314.48 C1077.51 315.66 1076.92 318.35 1077.76 320.54 C1078.6 322.73 1079.95 325.93 1081.3 327.62 C1082.65 329.3 1085.17 329.13 1085.85 330.65 C1086.52 332.17 1085.93 334.86 1085.34 336.71 C1084.75 338.57 1082.14 339.75 1082.31 341.77 C1082.48 343.79 1085.51 346.32 1086.35 348.84 C1087.19 351.37 1086.52 354.4 1087.36 356.93 C1088.21 359.46 1090.56 362.13 1091.41 364.01 C1092.25 365.88 1092.25 367.5 1092.42 368.2 L1025.5 368.2 L1025.5 380.5 L968.8 380.5 L968.8 281.4 Z M981.2 296.5 H1013 V380.5 H981.2 Z M1052.6 326.6 L1058.6 318.6 L1064.9 326.6 V368.2 H1052.6 Z"/></clipPath>
<clipPath id="hr"><path clip-rule="evenodd" d="M1179.85 281.4 C1178.93 282.2 1175.98 284.2 1174.29 286.17 C1172.61 288.15 1170.08 290.72 1169.75 293.25 C1169.41 295.78 1171.09 298.98 1172.27 301.34 C1173.45 303.69 1176.49 305.55 1176.82 307.4 C1177.16 309.25 1175.31 310.6 1174.29 312.45 C1173.28 314.31 1170.93 316.16 1170.76 318.52 C1170.59 320.88 1172.1 324.58 1173.28 326.61 C1174.46 328.63 1177.5 329.13 1177.83 330.65 C1178.17 332.17 1176.32 334.02 1175.31 335.7 C1174.29 337.39 1172.02 338.9 1171.77 340.76 C1171.52 342.61 1172.78 345.14 1173.79 346.82 C1174.8 348.51 1177.58 349.35 1177.83 350.87 C1178.09 352.38 1176.15 354.4 1175.31 355.92 C1174.46 357.44 1172.95 358.45 1172.78 359.96 C1172.61 361.48 1174.04 363.64 1174.29 365.02 C1174.55 366.39 1174.3 367.67 1174.3 368.2 L1174.3 380.5 L1230 380.5 L1230 281.4 L1179.85 281.4 Z M1186.2 296.5 H1217.4 V380.5 H1186.2 Z"/></clipPath>
<g clip-path="url(#hl)">
<line x1="868.7" y1="383.5" x2="973.8" y2="278.4" stroke-width="1.7"/>
<line x1="876.2" y1="383.5" x2="981.3" y2="278.4" stroke-width="1.7"/>
<line x1="891.2" y1="383.5" x2="996.3" y2="278.4" stroke-width="1.7"/>
<line x1="898.7" y1="383.5" x2="1003.8" y2="278.4" stroke-width="1.7"/>
<line x1="913.7" y1="383.5" x2="1018.8" y2="278.4" stroke-width="1.7"/>
<line x1="921.2" y1="383.5" x2="1026.3" y2="278.4" stroke-width="1.7"/>
<line x1="936.2" y1="383.5" x2="1041.3" y2="278.4" stroke-width="1.7"/>
<line x1="943.7" y1="383.5" x2="1048.8" y2="278.4" stroke-width="1.7"/>
<line x1="958.7" y1="383.5" x2="1063.8" y2="278.4" stroke-width="1.7"/>
<line x1="966.2" y1="383.5" x2="1071.3" y2="278.4" stroke-width="1.7"/>
<line x1="981.2" y1="383.5" x2="1086.3" y2="278.4" stroke-width="1.7"/>
<line x1="988.7" y1="383.5" x2="1093.8" y2="278.4" stroke-width="1.7"/>
<line x1="1003.7" y1="383.5" x2="1108.8" y2="278.4" stroke-width="1.7"/>
<line x1="1011.2" y1="383.5" x2="1116.3" y2="278.4" stroke-width="1.7"/>
<line x1="1026.2" y1="383.5" x2="1131.3" y2="278.4" stroke-width="1.7"/>
<line x1="1033.7" y1="383.5" x2="1138.8" y2="278.4" stroke-width="1.7"/>
<line x1="1048.7" y1="383.5" x2="1153.8" y2="278.4" stroke-width="1.7"/>
<line x1="1056.2" y1="383.5" x2="1161.3" y2="278.4" stroke-width="1.7"/>
<line x1="1071.2" y1="383.5" x2="1176.3" y2="278.4" stroke-width="1.7"/>
<line x1="1078.7" y1="383.5" x2="1183.8" y2="278.4" stroke-width="1.7"/>
<line x1="1093.7" y1="383.5" x2="1198.8" y2="278.4" stroke-width="1.7"/>
</g>
<g clip-path="url(#hr)">
<line x1="1056.2" y1="383.5" x2="1161.3" y2="278.4" stroke-width="1.7"/>
<line x1="1071.2" y1="383.5" x2="1176.3" y2="278.4" stroke-width="1.7"/>
<line x1="1078.7" y1="383.5" x2="1183.8" y2="278.4" stroke-width="1.7"/>
<line x1="1093.7" y1="383.5" x2="1198.8" y2="278.4" stroke-width="1.7"/>
<line x1="1101.2" y1="383.5" x2="1206.3" y2="278.4" stroke-width="1.7"/>
<line x1="1116.2" y1="383.5" x2="1221.3" y2="278.4" stroke-width="1.7"/>
<line x1="1123.7" y1="383.5" x2="1228.8" y2="278.4" stroke-width="1.7"/>
<line x1="1138.7" y1="383.5" x2="1243.8" y2="278.4" stroke-width="1.7"/>
<line x1="1146.2" y1="383.5" x2="1251.3" y2="278.4" stroke-width="1.7"/>
<line x1="1161.2" y1="383.5" x2="1266.3" y2="278.4" stroke-width="1.7"/>
<line x1="1168.7" y1="383.5" x2="1273.8" y2="278.4" stroke-width="1.7"/>
<line x1="1183.7" y1="383.5" x2="1288.8" y2="278.4" stroke-width="1.7"/>
<line x1="1191.2" y1="383.5" x2="1296.3" y2="278.4" stroke-width="1.7"/>
<line x1="1206.2" y1="383.5" x2="1311.3" y2="278.4" stroke-width="1.7"/>
<line x1="1213.7" y1="383.5" x2="1318.8" y2="278.4" stroke-width="1.7"/>
<line x1="1228.7" y1="383.5" x2="1333.8" y2="278.4" stroke-width="1.7"/>
</g>
<path d="M1019.64 281.4 C1019.81 282.53 1019.13 286.64 1020.65 288.19 C1022.17 289.75 1026.71 289.54 1028.74 290.72 C1030.76 291.9 1030.76 293.84 1032.78 295.27 C1034.8 296.7 1038.34 298.64 1040.87 299.31 C1043.39 299.99 1045.58 298.47 1047.94 299.31 C1050.3 300.16 1052.49 303.44 1055.02 304.37 C1057.54 305.29 1060.83 304.2 1063.1 304.87 C1065.38 305.55 1067.48 306.98 1068.66 308.41 C1069.84 309.84 1068.92 312.45 1070.18 313.47 C1071.44 314.48 1074.98 313.3 1076.24 314.48 C1077.51 315.66 1076.92 318.35 1077.76 320.54 C1078.6 322.73 1079.95 325.93 1081.3 327.62 C1082.65 329.3 1085.17 329.13 1085.85 330.65 C1086.52 332.17 1085.93 334.86 1085.34 336.71 C1084.75 338.57 1082.14 339.75 1082.31 341.77 C1082.48 343.79 1085.51 346.32 1086.35 348.84 C1087.19 351.37 1086.52 354.4 1087.36 356.93 C1088.21 359.46 1090.56 362.13 1091.41 364.01 C1092.25 365.88 1092.25 367.5 1092.42 368.2" fill="none" stroke-width="1.7" />
<path d="M1179.85 281.4 C1178.93 282.2 1175.98 284.2 1174.29 286.17 C1172.61 288.15 1170.08 290.72 1169.75 293.25 C1169.41 295.78 1171.09 298.98 1172.27 301.34 C1173.45 303.69 1176.49 305.55 1176.82 307.4 C1177.16 309.25 1175.31 310.6 1174.29 312.45 C1173.28 314.31 1170.93 316.16 1170.76 318.52 C1170.59 320.88 1172.1 324.58 1173.28 326.61 C1174.46 328.63 1177.5 329.13 1177.83 330.65 C1178.17 332.17 1176.32 334.02 1175.31 335.7 C1174.29 337.39 1172.02 338.9 1171.77 340.76 C1171.52 342.61 1172.78 345.14 1173.79 346.82 C1174.8 348.51 1177.58 349.35 1177.83 350.87 C1178.09 352.38 1176.15 354.4 1175.31 355.92 C1174.46 357.44 1172.95 358.45 1172.78 359.96 C1172.61 361.48 1174.04 363.64 1174.29 365.02 C1174.55 366.39 1174.3 367.67 1174.3 368.2" fill="none" stroke-width="1.7" />
<path d="M981.2 296.5 L982.46 297.4 L982.57 298.31 L981.43 299.21 L980.08 300.11 L979.75 301.02 L980.74 301.92 L982.15 302.82 L982.69 303.73 L981.87 304.63 L980.44 305.53 L979.7 306.44 L980.33 307.34 L981.75 308.24 L982.67 309.15 L982.25 310.05 L980.87 310.95 L979.79 311.85 L980 312.76 L981.3 313.66 L982.51 314.56 L982.52 315.47 L981.33 316.37 L980.02 317.27 L979.78 318.18 L980.84 319.08 L982.23 319.98 L982.68 320.89 L981.78 321.79 L980.35 322.69 L979.7 323.6 L980.41 324.5 L981.84 325.4 L982.69 326.31 L982.17 327.21 L980.77 328.11 L979.76 329.02 L980.06 329.92 L981.4 330.82 L982.56 331.73 L982.47 332.63 L981.23 333.53 L979.96 334.44 L979.82 335.34 L980.94 336.24 L982.3 337.15 L982.65 338.05 L981.68 338.95 L980.27 339.85 L979.71 340.76 L980.5 341.66 L981.93 342.56 L982.7 343.47 L982.09 344.37 L980.68 345.27 L979.74 346.18 L980.13 347.08 L981.5 347.98 L982.6 348.89 L982.42 349.79 L981.13 350.69 L979.9 351.6 L979.86 352.5 L981.04 353.4 L982.36 354.31 L982.63 355.21 L981.59 356.11 L980.19 357.02 L979.72 357.92 L980.59 358.82 L982.02 359.73 L982.7 360.63 L982.01 361.53 L980.58 362.44 L979.72 363.34 L980.2 364.24 L981.6 365.15 L982.63 366.05 L982.36 366.95 L981.03 367.85 L979.86 368.76 L979.91 369.66 L981.14 370.56 L982.43 371.47 L982.59 372.37 L981.49 373.27 L980.12 374.18 L979.74 375.08 L980.69 375.98 L982.1 376.89 L982.7 377.79 L981.92 378.69 L980.49 379.6 L979.71 380.5" fill="none" stroke-width="1.5" stroke-linejoin="round"/>
<path d="M1013 296.5 L1011.74 297.4 L1011.63 298.31 L1012.77 299.21 L1014.12 300.11 L1014.45 301.02 L1013.46 301.92 L1012.05 302.82 L1011.51 303.73 L1012.33 304.63 L1013.76 305.53 L1014.5 306.44 L1013.87 307.34 L1012.45 308.24 L1011.53 309.15 L1011.95 310.05 L1013.33 310.95 L1014.41 311.85 L1014.2 312.76 L1012.9 313.66 L1011.69 314.56 L1011.68 315.47 L1012.87 316.37 L1014.18 317.27 L1014.42 318.18 L1013.36 319.08 L1011.97 319.98 L1011.52 320.89 L1012.42 321.79 L1013.85 322.69 L1014.5 323.6 L1013.79 324.5 L1012.36 325.4 L1011.51 326.31 L1012.03 327.21 L1013.43 328.11 L1014.44 329.02 L1014.14 329.92 L1012.8 330.82 L1011.64 331.73 L1011.73 332.63 L1012.97 333.53 L1014.24 334.44 L1014.38 335.34 L1013.26 336.24 L1011.9 337.15 L1011.55 338.05 L1012.52 338.95 L1013.93 339.85 L1014.49 340.76 L1013.7 341.66 L1012.27 342.56 L1011.5 343.47 L1012.11 344.37 L1013.52 345.27 L1014.46 346.18 L1014.07 347.08 L1012.7 347.98 L1011.6 348.89 L1011.78 349.79 L1013.07 350.69 L1014.3 351.6 L1014.34 352.5 L1013.16 353.4 L1011.84 354.31 L1011.57 355.21 L1012.61 356.11 L1014.01 357.02 L1014.48 357.92 L1013.61 358.82 L1012.18 359.73 L1011.5 360.63 L1012.19 361.53 L1013.62 362.44 L1014.48 363.34 L1014 364.24 L1012.6 365.15 L1011.57 366.05 L1011.84 366.95 L1013.17 367.85 L1014.34 368.76 L1014.29 369.66 L1013.06 370.56 L1011.77 371.47 L1011.61 372.37 L1012.71 373.27 L1014.08 374.18 L1014.46 375.08 L1013.51 375.98 L1012.1 376.89 L1011.5 377.79 L1012.28 378.69 L1013.71 379.6 L1014.49 380.5" fill="none" stroke-width="1.5" stroke-linejoin="round"/>
<line x1="981.2" y1="296.5" x2="1013" y2="296.5" stroke-width="1.3"/>
<path d="M1186.2 296.5 L1187.46 297.4 L1187.57 298.31 L1186.43 299.21 L1185.08 300.11 L1184.75 301.02 L1185.74 301.92 L1187.15 302.82 L1187.69 303.73 L1186.87 304.63 L1185.44 305.53 L1184.7 306.44 L1185.33 307.34 L1186.75 308.24 L1187.67 309.15 L1187.25 310.05 L1185.87 310.95 L1184.79 311.85 L1185 312.76 L1186.3 313.66 L1187.51 314.56 L1187.52 315.47 L1186.33 316.37 L1185.02 317.27 L1184.78 318.18 L1185.84 319.08 L1187.23 319.98 L1187.68 320.89 L1186.78 321.79 L1185.35 322.69 L1184.7 323.6 L1185.41 324.5 L1186.84 325.4 L1187.69 326.31 L1187.17 327.21 L1185.77 328.11 L1184.76 329.02 L1185.06 329.92 L1186.4 330.82 L1187.56 331.73 L1187.47 332.63 L1186.23 333.53 L1184.96 334.44 L1184.82 335.34 L1185.94 336.24 L1187.3 337.15 L1187.65 338.05 L1186.68 338.95 L1185.27 339.85 L1184.71 340.76 L1185.5 341.66 L1186.93 342.56 L1187.7 343.47 L1187.09 344.37 L1185.68 345.27 L1184.74 346.18 L1185.13 347.08 L1186.5 347.98 L1187.6 348.89 L1187.42 349.79 L1186.13 350.69 L1184.9 351.6 L1184.86 352.5 L1186.04 353.4 L1187.36 354.31 L1187.63 355.21 L1186.59 356.11 L1185.19 357.02 L1184.72 357.92 L1185.59 358.82 L1187.02 359.73 L1187.7 360.63 L1187.01 361.53 L1185.58 362.44 L1184.72 363.34 L1185.2 364.24 L1186.6 365.15 L1187.63 366.05 L1187.36 366.95 L1186.03 367.85 L1184.86 368.76 L1184.91 369.66 L1186.14 370.56 L1187.43 371.47 L1187.59 372.37 L1186.49 373.27 L1185.12 374.18 L1184.74 375.08 L1185.69 375.98 L1187.1 376.89 L1187.7 377.79 L1186.92 378.69 L1185.49 379.6 L1184.71 380.5" fill="none" stroke-width="1.5" stroke-linejoin="round"/>
<path d="M1217.4 296.5 L1216.14 297.4 L1216.03 298.31 L1217.17 299.21 L1218.52 300.11 L1218.85 301.02 L1217.86 301.92 L1216.45 302.82 L1215.91 303.73 L1216.73 304.63 L1218.16 305.53 L1218.9 306.44 L1218.27 307.34 L1216.85 308.24 L1215.93 309.15 L1216.35 310.05 L1217.73 310.95 L1218.81 311.85 L1218.6 312.76 L1217.3 313.66 L1216.09 314.56 L1216.08 315.47 L1217.27 316.37 L1218.58 317.27 L1218.82 318.18 L1217.76 319.08 L1216.37 319.98 L1215.92 320.89 L1216.82 321.79 L1218.25 322.69 L1218.9 323.6 L1218.19 324.5 L1216.76 325.4 L1215.91 326.31 L1216.43 327.21 L1217.83 328.11 L1218.84 329.02 L1218.54 329.92 L1217.2 330.82 L1216.04 331.73 L1216.13 332.63 L1217.37 333.53 L1218.64 334.44 L1218.78 335.34 L1217.66 336.24 L1216.3 337.15 L1215.95 338.05 L1216.92 338.95 L1218.33 339.85 L1218.89 340.76 L1218.1 341.66 L1216.67 342.56 L1215.9 343.47 L1216.51 344.37 L1217.92 345.27 L1218.86 346.18 L1218.47 347.08 L1217.1 347.98 L1216 348.89 L1216.18 349.79 L1217.47 350.69 L1218.7 351.6 L1218.74 352.5 L1217.56 353.4 L1216.24 354.31 L1215.97 355.21 L1217.01 356.11 L1218.41 357.02 L1218.88 357.92 L1218.01 358.82 L1216.58 359.73 L1215.9 360.63 L1216.59 361.53 L1218.02 362.44 L1218.88 363.34 L1218.4 364.24 L1217 365.15 L1215.97 366.05 L1216.24 366.95 L1217.57 367.85 L1218.74 368.76 L1218.69 369.66 L1217.46 370.56 L1216.17 371.47 L1216.01 372.37 L1217.11 373.27 L1218.48 374.18 L1218.86 375.08 L1217.91 375.98 L1216.5 376.89 L1215.9 377.79 L1216.68 378.69 L1218.11 379.6 L1218.89 380.5" fill="none" stroke-width="1.5" stroke-linejoin="round"/>
<line x1="1186.2" y1="296.5" x2="1217.4" y2="296.5" stroke-width="1.3"/>
<polyline points="1019.64,281.4 968.8,281.4 968.8,380.5 1025.5,380.5 1025.5,368.2 1174.3,368.2 1174.3,380.5 1230,380.5 1230,281.4 1179.85,281.4" fill="none" stroke-width="1.9" stroke-linejoin="miter"/>
<line x1="1174.3" y1="368.2" x2="1236" y2="368.2" stroke-width="1.5"/>
<polyline points="1006.2,281.4 1046.2,281.4 1046.2,227.5 1152.2,227.5 1152.2,281.4 1192.6,281.4" fill="none" stroke-width="2.05" stroke-linejoin="miter"/>
<path d="M1006.5 281.4 A93.2 93.2 0 0 1 1192.9 281.4" fill="none" stroke-width="1.5"/>
<line x1="1053" y1="281.4" x2="1146" y2="281.4" stroke-width="0.9" stroke-dasharray="26 8"/>
<polyline points="1052.6,368.2 1052.6,326.6 1064.9,326.6 1064.9,368.2" fill="none" stroke-width="1.3" stroke-linejoin="round"/>
<polyline points="1052.6,326.6 1058.8,318.4 1064.9,326.6" fill="none" stroke-width="1.2" stroke-linejoin="round"/>
<polyline points="1053.4,325.4 1058.8,322.6 1064.2,325.4" fill="none" stroke-width="0.8" stroke-linejoin="round"/>
<line x1="1059.6" y1="327" x2="1059.6" y2="368.2" stroke-width="0.7"/>
<line x1="1058.6" y1="312" x2="1058.6" y2="447" stroke-width="0.8" stroke-dasharray="16 4 5 4"/>
<polyline points="1048,368.2 1048,433.4 1050,435.6 1068.5,435.6 1070.5,433.4 1070.5,368.2" fill="none" stroke-width="2.05" stroke-linejoin="round"/>
<line x1="1049.5" y1="432" x2="1069" y2="432" stroke-width="0.9"/>
<polyline points="1089,368.2 1089,433.4 1091,435.6 1108,435.6 1110,433.4 1110,368.2" fill="none" stroke-width="2.05" stroke-linejoin="round"/>
<line x1="1090.5" y1="432" x2="1108.5" y2="432" stroke-width="0.9"/>
<polyline points="1128.6,368.2 1128.6,433.4 1130.6,435.6 1149,435.6 1151,433.4 1151,368.2" fill="none" stroke-width="2.05" stroke-linejoin="round"/>
<line x1="1130.1" y1="432" x2="1149.5" y2="432" stroke-width="0.9"/>
<path d="M1070.5 368.7 Q1080 372.8 1089 373.2" stroke-width="1.0"/>
<path d="M1110 373.2 Q1120 372.8 1128.6 368.7" stroke-width="1.0"/>
<line x1="1099.7" y1="174.5" x2="1099.7" y2="446" stroke-width="1.1" stroke-dasharray="34 5 9 5"/>
<line x1="996.8" y1="290" x2="996.8" y2="386" stroke-width="0.8" stroke-dasharray="30 4 6 4"/>
<line x1="1201.6" y1="290" x2="1201.6" y2="386" stroke-width="0.8" stroke-dasharray="30 4 6 4"/>
<line x1="1139.5" y1="358" x2="1139.5" y2="447" stroke-width="0.7" stroke-dasharray="40 4 6 4"/>
<line x1="1005.8" y1="102.3" x2="1005.8" y2="262" stroke-width="1.85"/>
<line x1="1192.2" y1="102.3" x2="1192.2" y2="262" stroke-width="1.85"/>
<line x1="1005.8" y1="116.7" x2="1069" y2="116.7" stroke-width="1.85"/>
<line x1="1129.5" y1="116.7" x2="1192.2" y2="116.7" stroke-width="1.85"/>
<polygon points="1005.8,116.7 1023.3,113.8 1023.3,119.6" fill="#000" stroke="none"/>
<polygon points="1192.2,116.7 1174.7,119.6 1174.7,113.8" fill="#000" stroke="none"/>
<text class="c" x="1071.5" y="123.6" font-size="19.48" textLength="55" lengthAdjust="spacingAndGlyphs" >ø.438</text>
<line x1="1046.2" y1="137" x2="1046.2" y2="222" stroke-width="1.85"/>
<line x1="1152.2" y1="137" x2="1152.2" y2="222" stroke-width="1.85"/>
<line x1="1046.2" y1="151.4" x2="1075" y2="151.4" stroke-width="1.85"/>
<line x1="1122" y1="151.4" x2="1152.2" y2="151.4" stroke-width="1.85"/>
<polygon points="1046.2,151.4 1063.7,148.5 1063.7,154.3" fill="#000" stroke="none"/>
<polygon points="1152.2,151.4 1134.7,154.3 1134.7,148.5" fill="#000" stroke="none"/>
<text class="c" x="1077.5" y="158.3" font-size="19.48" textLength="42" lengthAdjust="spacingAndGlyphs" >.250</text>
<line x1="1128.5" y1="188.4" x2="1451.5" y2="188.4" stroke-width="1.85"/>
<line x1="1159.5" y1="227.6" x2="1396" y2="227.6" stroke-width="1.85"/>
<line x1="1236" y1="281.2" x2="1339.5" y2="281.2" stroke-width="1.85"/>
<line x1="1236" y1="368.1" x2="1295" y2="368.1" stroke-width="1.85"/>
<line x1="1236" y1="380.8" x2="1451.5" y2="380.8" stroke-width="1.85"/>
<line x1="1155.8" y1="436.3" x2="1268" y2="436.3" stroke-width="1.85"/>
<line x1="1436.8" y1="188.4" x2="1436.8" y2="272.5" stroke-width="1.85"/>
<line x1="1436.8" y1="301" x2="1436.8" y2="380.8" stroke-width="1.85"/>
<polygon points="1436.8,188.4 1439.7,205.9 1433.9,205.9" fill="#000" stroke="none"/>
<polygon points="1436.8,380.8 1433.9,363.3 1439.7,363.3" fill="#000" stroke="none"/>
<text class="c" x="1416" y="294.9" font-size="19.48" textLength="41.5" lengthAdjust="spacingAndGlyphs" >.453</text>
<line x1="1380.6" y1="227.6" x2="1380.6" y2="292" stroke-width="1.85"/>
<line x1="1380.6" y1="321.5" x2="1380.6" y2="380.8" stroke-width="1.85"/>
<polygon points="1380.6,227.6 1383.5,245.1 1377.7,245.1" fill="#000" stroke="none"/>
<polygon points="1380.6,380.8 1377.7,363.3 1383.5,363.3" fill="#000" stroke="none"/>
<text class="c" x="1359.5" y="314.9" font-size="19.48" textLength="41.5" lengthAdjust="spacingAndGlyphs" >.360</text>
<line x1="1324.5" y1="281.2" x2="1324.5" y2="308" stroke-width="1.85"/>
<line x1="1324.5" y1="352" x2="1324.5" y2="380.8" stroke-width="1.85"/>
<polygon points="1324.5,281.2 1327.4,298.7 1321.6,298.7" fill="#000" stroke="none"/>
<polygon points="1324.5,380.8 1321.6,363.3 1327.4,363.3" fill="#000" stroke="none"/>
<text class="c" x="1304" y="328.6" font-size="19.48" textLength="40.5" lengthAdjust="spacingAndGlyphs" >.234</text>
<text class="c" x="1313.5" y="349.7" font-size="19.48" textLength="23" lengthAdjust="spacingAndGlyphs" >2X</text>
<line x1="1280.9" y1="332" x2="1280.9" y2="368.1" stroke-width="1.85"/>
<polygon points="1280.9,368.1 1278,350.6 1283.8,350.6" fill="#000" stroke="none"/>
<polyline points="1280.9,380.8 1280.9,426.2 1299,426.2" fill="none" stroke-width="1.85" stroke-linejoin="round"/>
<polygon points="1280.9,380.8 1283.8,398.3 1278,398.3" fill="#000" stroke="none"/>
<text class="c" x="1301.5" y="434.1" font-size="19.48" textLength="42" lengthAdjust="spacingAndGlyphs" >.030</text>
<polyline points="1252.8,380.8 1252.8,467.7 1271,467.7" fill="none" stroke-width="1.85" stroke-linejoin="round"/>
<polygon points="1252.8,380.8 1255.7,398.3 1249.9,398.3" fill="#000" stroke="none"/>
<polygon points="1252.8,436.3 1249.9,418.8 1255.7,418.8" fill="#000" stroke="none"/>
<text class="c" x="1275" y="474.6" font-size="19.48" textLength="42.5" lengthAdjust="spacingAndGlyphs" >.130</text>
<text class="c" x="1285.5" y="496.3" font-size="19.48" textLength="23" lengthAdjust="spacingAndGlyphs" >5X</text>
<line x1="904.7" y1="295.8" x2="976" y2="295.8" stroke-width="1.85"/>
<line x1="904.7" y1="380.5" x2="963" y2="380.5" stroke-width="1.85"/>
<polyline points="901.8,412.5 919.1,412.5 919.1,295.8" fill="none" stroke-width="1.85" stroke-linejoin="round"/>
<polygon points="919.1,295.8 922,313.3 916.2,313.3" fill="#000" stroke="none"/>
<polygon points="919.1,380.5 916.2,363 922,363" fill="#000" stroke="none"/>
<text class="c" x="804.3" y="419.9" font-size="19.48" textLength="42.1" lengthAdjust="spacingAndGlyphs" >.170</text>
<text class="c" x="859.9" y="419.9" font-size="19.48" textLength="31.3" lengthAdjust="spacingAndGlyphs" >MIN</text>
<text class="c" x="777.9" y="440.9" font-size="19.48" textLength="41.9" lengthAdjust="spacingAndGlyphs" >FULL</text>
<text class="c" x="836.7" y="440.9" font-size="19.48" textLength="81.1" lengthAdjust="spacingAndGlyphs" >THREADS</text>
<text class="c" x="747" y="480.7" font-size="19.48" textLength="23" lengthAdjust="spacingAndGlyphs" >2X</text>
<text class="c" x="783.9" y="480.7" font-size="19.48" textLength="50.9" lengthAdjust="spacingAndGlyphs" >2–56</text>
<text class="c" x="848.7" y="480.7" font-size="19.48" textLength="79.1" lengthAdjust="spacingAndGlyphs" >UNC–2B</text>
<polyline points="935.8,473 950.8,473 997.1,382" fill="none" stroke-width="1.85" stroke-linejoin="round"/>
<polygon points="997.1,382 991.75,398.91 986.58,396.28" fill="#000" stroke="none"/>
<line x1="1088.7" y1="441.4" x2="1088.7" y2="504.5" stroke-width="1.85"/>
<line x1="1109.6" y1="441.4" x2="1109.6" y2="504.5" stroke-width="1.85"/>
<line x1="1053.7" y1="489.6" x2="1088.7" y2="489.6" stroke-width="1.85"/>
<polygon points="1088.7,489.6 1071.2,492.5 1071.2,486.7" fill="#000" stroke="none"/>
<line x1="1109.6" y1="489.6" x2="1146.7" y2="489.6" stroke-width="1.85"/>
<polygon points="1109.6,489.6 1127.1,486.7 1127.1,492.5" fill="#000" stroke="none"/>
<text class="c" x="1150.5" y="496.9" font-size="19.48" textLength="53" lengthAdjust="spacingAndGlyphs" >ø.050</text>
<text class="c" x="1136.5" y="517.9" font-size="19.19" textLength="81.1" lengthAdjust="spacingAndGlyphs" >CONTACT</text>
<!-- MOUNTING PATTERN -->
<circle cx="1268" cy="744.9" r="14.2" fill="none" stroke-width="1.7"/>
<line x1="1257.4" y1="744.9" x2="1278.6" y2="744.9" stroke-width="1.1"/>
<line x1="1268" y1="734.3" x2="1268" y2="755.5" stroke-width="1.1"/>
<circle cx="1268" cy="830.3" r="14.2" fill="none" stroke-width="1.7"/>
<line x1="1257.4" y1="830.3" x2="1278.6" y2="830.3" stroke-width="1.1"/>
<line x1="1268" y1="819.7" x2="1268" y2="840.9" stroke-width="1.1"/>
<circle cx="1353" cy="744.9" r="14.2" fill="none" stroke-width="1.7"/>
<line x1="1342.4" y1="744.9" x2="1363.6" y2="744.9" stroke-width="1.1"/>
<line x1="1353" y1="734.3" x2="1353" y2="755.5" stroke-width="1.1"/>
<circle cx="1353" cy="830.3" r="14.2" fill="none" stroke-width="1.7"/>
<line x1="1342.4" y1="830.3" x2="1363.6" y2="830.3" stroke-width="1.1"/>
<line x1="1353" y1="819.7" x2="1353" y2="840.9" stroke-width="1.1"/>
<circle cx="1310.5" cy="787.6" r="12.2" fill="none" stroke-width="1.7"/>
<line x1="1306.5" y1="787.6" x2="1314.5" y2="787.6" stroke-width="0.8"/>
<line x1="1310.5" y1="783.6" x2="1310.5" y2="791.6" stroke-width="0.8"/>
<line x1="1247" y1="787.6" x2="1298.3" y2="787.6" stroke-width="1.25"/>
<line x1="1322.7" y1="787.6" x2="1372.8" y2="787.6" stroke-width="1.25"/>
<line x1="1310.5" y1="726.4" x2="1310.5" y2="775.4" stroke-width="1.25"/>
<line x1="1310.5" y1="799.8" x2="1310.5" y2="850.3" stroke-width="1.25"/>
<text class="c" x="1104.5" y="825.2" font-size="19.48" textLength="52.5" lengthAdjust="spacingAndGlyphs" >ø.060</text>
<text class="c" x="1171.8" y="825.2" font-size="19.48" textLength="46.5" lengthAdjust="spacingAndGlyphs" >THRU</text>
<text class="c" x="1123.5" y="847.2" font-size="19.48" textLength="23.5" lengthAdjust="spacingAndGlyphs" >5X</text>
<polyline points="1223.9,818.7 1234.5,818.7 1298.4,795.4" fill="none" stroke-width="1.85" stroke-linejoin="round"/>
<polygon points="1298.4,795.4 1282.95,804.12 1280.97,798.67" fill="#000" stroke="none"/>
<line x1="1268" y1="844.8" x2="1268" y2="903.4" stroke-width="1.85"/>
<line x1="1353" y1="844.8" x2="1353" y2="903.4" stroke-width="1.85"/>
<line x1="1252.2" y1="888.7" x2="1353" y2="888.7" stroke-width="1.85"/>
<polygon points="1268,888.7 1285.5,885.8 1285.5,891.6" fill="#000" stroke="none"/>
<polygon points="1353,888.7 1335.5,891.6 1335.5,885.8" fill="#000" stroke="none"/>
<text class="c" x="1200.5" y="895.7" font-size="19.48" textLength="40.7" lengthAdjust="spacingAndGlyphs" >.200</text>
<text class="c" x="1208.8" y="917" font-size="19.48" textLength="24.7" lengthAdjust="spacingAndGlyphs" >SQ</text>
<text class="si" x="1183.6" y="952.4" font-size="19.85" textLength="109" lengthAdjust="spacingAndGlyphs" >MOUNTING</text>
<text class="si" x="1305" y="952.4" font-size="19.85" textLength="95" lengthAdjust="spacingAndGlyphs" >PATTERN</text>
<line x1="1183.5" y1="955.6" x2="1400" y2="955.6" stroke-width="1.1"/>
</svg>
</body></html>
